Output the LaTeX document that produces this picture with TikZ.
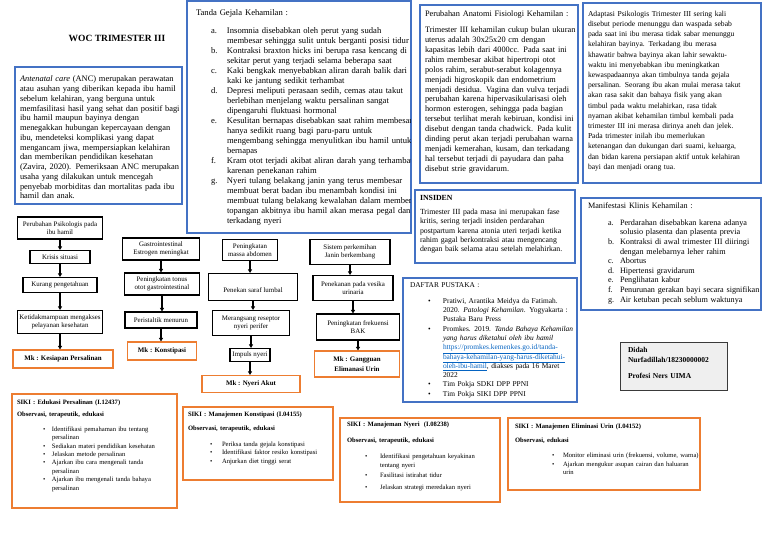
\documentclass[tikz,border=0pt]{standalone}
\usepackage{fontspec}
\setmainfont{Liberation Serif}
\usetikzlibrary{arrows.meta}
\definecolor{bblue}{HTML}{4472C4}
\definecolor{borange}{HTML}{ED7D31}
\definecolor{lnk}{HTML}{0563C1}
\definecolor{dgray}{HTML}{3A3A3A}
\definecolor{lgray}{HTML}{EFEFEF}
\newcommand\fs[2]{\fontsize{#1}{#2}\selectfont}
\newcommand\JL[1]{\hbox to\hsize{#1}}
\newcommand\LL[1]{\hbox to\hsize{#1\hfil}}
\newcommand\IT[4]{\hbox to\hsize{\hskip#1\relax\hbox to#2{#3\hfil}#4\hfil}}
\newcommand\JIT[4]{\hbox to\hsize{\hskip#1\relax\hbox to#2{#3\hfil}#4}}
\newcommand\CT[2]{\hbox to\hsize{\hskip#1\relax#2\hfil}}
\newcommand\JCT[2]{\hbox to\hsize{\hskip#1\relax#2}}
\tikzset{
  bframe/.style={draw=bblue, line width=1.1pt, anchor=north west, inner sep=0pt, outer sep=0pt},
  oframe/.style={draw=borange, line width=1.2pt, anchor=north west, inner sep=0pt, outer sep=0pt},
  body/.style={anchor=north west, inner sep=0pt, outer sep=0pt, align=left},
  flow/.style={draw, line width=1.1pt, align=center, font=\fs{6.9}{8.3}, inner sep=1pt},
  mk/.style={draw=borange, line width=1.2pt, align=center, font=\bfseries\fs{6.9}{9.5}, inner sep=1pt},
  arr/.style={-{Triangle[length=3.5pt,width=4pt]}, line width=1.1pt}
}
\begin{document}
\begin{tikzpicture}[x=1pt,y=-1pt]
\useasboundingbox (0,0) rectangle (768,543);

% title
\node[font=\bfseries\fs{9.5}{11}] (title) at (117,38) {WOC TRIMESTER III};

% ANC box
\node[bframe, minimum width=167pt, minimum height=137pt] (ancbox) at (15,67) {};
\node[body, text width=158pt, font=\fs{8.4}{9.75}] (anctext) at (20,76) {%
\JL{\emph{Antenatal care} (ANC) merupakan perawatan}
\JL{atau asuhan yang diberikan kepada ibu hamil}
\JL{sebelum kelahiran, yang berguna untuk}
\JL{memfasilitasi hasil yang sehat dan positif bagi}
\JL{ibu hamil maupun bayinya dengan}
\JL{menegakkan hubungan kepercayaan dengan}
\JL{ibu, mendeteksi komplikasi yang dapat}
\JL{mengancam jiwa, mempersiapkan kelahiran}
\JL{dan memberikan pendidikan kesehatan}
\JL{(Zavira, 2020). Pemeriksaan ANC merupakan}
\JL{usaha yang dilakukan untuk mencegah}
\JL{penyebab morbiditas dan mortalitas pada ibu}
\LL{hamil dan anak.}};

% Tanda gejala box
\node[bframe, minimum width=224pt, minimum height=232pt] (tandabox) at (187,1) {};
\begin{scope}
\clip (187,1) rectangle (410.5,233);
\node[body, text width=230pt, font=\fs{8.6}{10}] (tandatext) at (196,10) {%
\LL{Tanda Gejala Kehamilan :}
\vskip 8pt
\IT{15pt}{16pt}{a.}{Insomnia disebabkan oleh perut yang sudah}
\CT{31pt}{membesar sehingga sulit untuk berganti posisi tidur}
\IT{15pt}{16pt}{b.}{Kontraksi braxton hicks ini berupa rasa kencang di}
\CT{31pt}{sekitar perut yang terjadi selama beberapa saat}
\IT{15pt}{16pt}{c.}{Kaki bengkak menyebabkan aliran darah balik dari}
\CT{31pt}{kaki ke jantung sedikit terhambat}
\IT{15pt}{16pt}{d.}{Depresi meliputi perasaan sedih, cemas atau takut}
\CT{31pt}{berlebihan menjelang waktu persalinan sangat}
\CT{31pt}{dipengaruhi fluktuasi hormonal}
\IT{15pt}{16pt}{e.}{Kesulitan bernapas disebabkan saat rahim membesar}
\CT{31pt}{hanya sedikit ruang bagi paru-paru untuk}
\CT{31pt}{mengembang sehingga menyulitkan ibu hamil untuk}
\CT{31pt}{bernapas}
\IT{15pt}{16pt}{f.}{Kram otot terjadi akibat aliran darah yang terhambat}
\CT{31pt}{karenan penekanan rahim}
\IT{15pt}{16pt}{g.}{Nyeri tulang belakang janin yang terus membesar}
\CT{31pt}{membuat berat badan ibu menambah kondisi ini}
\CT{31pt}{membuat tulang belakang kewalahan dalam memberi}
\CT{31pt}{topangan akbitnya ibu hamil akan merasa pegal dan}
\CT{31pt}{terkadang nyeri}};
\end{scope}

% Perubahan anatomi box
\node[bframe, minimum width=158pt, minimum height=178pt] (anatbox) at (420,5) {};
\node[body, text width=148pt, font=\fs{8.3}{9.9}] (anattext) at (425,11) {%
\LL{Perubahan Anatomi Fisiologi Kehamilan :}
\vskip 6pt
\JL{Trimester III kehamilan cukup bulan ukuran}
\JL{uterus adalah 30x25x20 cm dengan}
\JL{kapasitas lebih dari 4000cc. Pada saat ini}
\JL{rahim membesar akibat hipertropi otot}
\JL{polos rahim, serabut-serabut kolagennya}
\JL{menjadi higroskopik dan endometrium}
\JL{menjadi desidua. Vagina dan vulva terjadi}
\JL{perubahan karena hipervasikularisasi oleh}
\JL{hormon esterogen, sehingga pada bagian}
\JL{tersebut terlihat merah kebiruan, kondisi ini}
\JL{disebut dengan tanda chadwick. Pada kulit}
\JL{dinding perut akan terjadi perubahan warna}
\JL{menjadi kemerahan, kusam, dan terkadang}
\JL{hal tersebut terjadi di payudara dan paha}
\LL{disebut strie gravidarum.}};

% Adaptasi box
\node[bframe, minimum width=178pt, minimum height=180pt] (adapbox) at (583,3) {};
\node[body, text width=168pt, font=\fs{7.6}{10.2}] (adaptext) at (588,11) {%
\LL{Adaptasi Psikologis Trimester III sering kali}
\LL{disebut periode menunggu dan waspada sebab}
\LL{pada saat ini ibu merasa tidak sabar menunggu}
\LL{kelahiran bayinya. Terkadang ibu merasa}
\LL{khawatir bahwa bayinya akan lahir sewaktu-}
\LL{waktu ini menyebabkan ibu meningkatkan}
\LL{kewaspadaannya akan timbulnya tanda gejala}
\LL{persalinan. Seorang ibu akan mulai merasa takut}
\LL{akan rasa sakit dan bahaya fisik yang akan}
\LL{timbul pada waktu melahirkan, rasa tidak}
\LL{nyaman akibat kehamilan timbul kembali pada}
\LL{trimester III ini merasa dirinya aneh dan jelek.}
\LL{Pada trimester inilah ibu memerlukan}
\LL{ketenangan dan dukungan dari suami, keluarga,}
\LL{dan bidan karena persiapan aktif untuk kelahiran}
\LL{bayi dan menjadi orang tua.}};

% Insiden box
\node[bframe, minimum width=160pt, minimum height=73pt] (insbox) at (415,190) {};
\node[body, text width=150pt, font=\fs{7.8}{9.3}] (instext) at (420,195) {%
\LL{\bfseries INSIDEN}
\vskip 5pt
\JL{Trimester III pada masa ini merupakan fase}
\JL{kritis, sering terjadi insiden perdarahan}
\JL{postpartum karena atonia uteri terjadi ketika}
\JL{rahim gagal berkontraksi atau mengencang}
\LL{dengan baik selama atau setelah melahirkan.}};

% Manifestasi box
\node[bframe, minimum width=180pt, minimum height=112pt] (manbox) at (581,198) {};
\node[body, text width=168pt, font=\fs{8.2}{9.6}] (mantext) at (588,203) {%
\LL{Manifestasi Klinis Kehamilan :}
\vskip 7pt
\JIT{20pt}{12pt}{a.}{Perdarahan disebabkan karena adanya}
\CT{32pt}{solusio plasenta dan plasenta previa}
\JIT{20pt}{12pt}{b.}{Kontraksi di awal trimester III diiringi}
\CT{32pt}{dengan melebarnya leher rahim}
\IT{20pt}{12pt}{c.}{Abortus}
\IT{20pt}{12pt}{d.}{Hipertensi gravidarum}
\IT{20pt}{12pt}{e.}{Penglihatan kabur}
\IT{20pt}{12pt}{f.}{Penurunan gerakan bayi secara signifikan}
\IT{20pt}{12pt}{g.}{Air ketuban pecah seblum waktunya}};

% Daftar pustaka box
\node[bframe, minimum width=174pt, minimum height=124pt] (dafbox) at (403,278) {};
\node[body, text width=162pt, font=\fs{7.4}{9.3}] (daftext) at (410,283) {%
\LL{DAFTAR PUSTAKA :}
\vskip 6pt
\IT{18pt}{15pt}{\textbullet}{Pratiwi, Arantika Meidya da Fatimah.}
\CT{33pt}{2020. \emph{Patologi Kehamilan}. Yogyakarta :}
\CT{33pt}{Pustaka Baru Press}
\IT{18pt}{15pt}{\textbullet}{Promkes. 2019. \emph{Tanda Bahaya Kehamilan}}
\CT{33pt}{\emph{yang harus diketahui oleh ibu hamil}}
\CT{33pt}{\textcolor{lnk}{\underline{https://promkes.kemenkes.go.id/tanda-}}}
\CT{33pt}{\textcolor{lnk}{\underline{bahaya-kehamilan-yang-harus-diketahui-}}}
\CT{33pt}{\textcolor{lnk}{\underline{oleh-ibu-hamil}}, diakses pada 16 Maret}
\CT{33pt}{2022}
\IT{18pt}{15pt}{\textbullet}{Tim Pokja SDKI DPP PPNI}
\IT{18pt}{15pt}{\textbullet}{Tim Pokja SIKI DPP PPNI}};

% Didah box
\node[draw=dgray, fill=lgray, line width=1.3pt, anchor=north west, minimum width=107pt, minimum height=48pt, inner sep=0pt] (didbox) at (620,342) {};
\node[body, text width=100pt, font=\bfseries\fs{7.5}{9.8}] (didtext) at (628,347) {%
\LL{Didah}
\LL{Nurfadillah/18230000002}
\vskip 7pt
\LL{Profesi Ners UIMA}};

% ---------- flow column 1 ----------
\node[flow, minimum width=85pt, minimum height=22pt] (p1) at (60,228) {Perubahan Psikologis pada\\ibu hamil};
\node[flow, minimum width=60pt, minimum height=13pt] (p2) at (60,257) {Krisis situasi};
\node[flow, minimum width=74pt, minimum height=15pt] (p3) at (60,285) {Kurang pengetahuan};
\node[flow, minimum width=85pt, minimum height=23pt] (p4) at (60,322) {Ketidakmampuan mengakses\\pelayanan kesehatan};
\node[mk, minimum width=100pt, minimum height=18pt] (m1) at (63,359) {Mk : Kesiapan Persalinan};
\draw[arr] (p1.south) -- (p1.south |- p2.north);
\draw[arr] (p2.south) -- (p2.south |- p3.north);
\draw[arr] (p3.south) -- (p3.south |- p4.north);
\draw[arr] (p4.south) -- (p4.south |- m1.north);

% ---------- flow column 2 ----------
\node[flow, minimum width=77pt, minimum height=22pt] (g1) at (161,249) {Gastrointestinal\\Estrogen meningkat};
\node[flow, minimum width=75pt, minimum height=22pt] (g2) at (162,284) {Peningkatan tonus\\otot gastrointestinal};
\node[flow, minimum width=72pt, minimum height=16pt] (g3) at (161,320) {Peristaltik menurun};
\node[mk, minimum width=69pt, minimum height=18pt] (m2) at (162,351) {Mk : Konstipasi};
\draw[arr] (g1.south) -- (g1.south |- g2.north);
\draw[arr] (g2.south) -- (g2.south |- g3.north);
\draw[arr] (g3.south) -- (g3.south |- m2.north);

% ---------- flow column 3 ----------
\node[flow, minimum width=55pt, minimum height=21pt] (n1) at (250,250) {Peningkatan\\massa abdomen};
\node[flow, minimum width=89pt, minimum height=27pt, text height=12pt] (n2) at (253,287) {Penekan saraf lumbal};
\node[flow, minimum width=77pt, minimum height=25pt] (n3) at (251,323) {Merangsang reseptor\\nyeri perifer};
\node[flow, minimum width=40pt, minimum height=13pt] (n4) at (250,355) {Impuls nyeri};
\node[mk, minimum width=98pt, minimum height=17pt] (m3) at (251,384) {Mk : Nyeri Akut};
\draw[arr] (n1.south) -- (n1.south |- n2.north);
\draw[arr] (n2.south) -- (n2.south |- n3.north);
\draw[arr] (n3.south) -- (n3.south |- n4.north);
\draw[arr] (n4.south) -- (n4.south |- m3.north);

% ---------- flow column 4 ----------
\node[flow, minimum width=80pt, minimum height=25pt] (u1) at (350,252) {Sistem perkemihan\\Janin berkembang};
\node[flow, minimum width=80pt, minimum height=25pt] (u2) at (353,288) {Penekanan pada vesika\\urinaria};
\node[flow, minimum width=83pt, minimum height=26pt] (u3) at (358,327) {Peningkatan frekuensi\\BAK};
\node[mk, minimum width=85pt, minimum height=26pt] (u4) at (357,364) {Mk : Gangguan\\Elimanasi Urin};
\draw[arr] (u1.south) -- (u1.south |- u2.north);
\draw[arr] (u2.south) -- (u2.south |- u3.north);
\draw[arr] (u3.south) -- (u3.south |- u4.north);

% ---------- SIKI boxes ----------
\node[oframe, minimum width=165pt, minimum height=114pt] (s1box) at (12,394) {};
\node[body, text width=155pt, font=\fs{6.6}{8.4}] (s1text) at (17,400) {%
\LL{\bfseries SIKI : Edukasi Persalinan (I.12437)}
\vskip 4pt
\LL{\bfseries Observasi, terapeutik, edukasi}
\vskip 6pt
\JIT{26pt}{9pt}{\textbullet}{Identifikasi pemahaman ibu tentang}
\CT{35pt}{persalinan}
\IT{26pt}{9pt}{\textbullet}{Sediakan materi pendidikan kesehatan}
\IT{26pt}{9pt}{\textbullet}{Jelaskan metode persalinan}
\JIT{26pt}{9pt}{\textbullet}{Ajarkan ibu cara mengenali tanda}
\CT{35pt}{persalinan}
\JIT{26pt}{9pt}{\textbullet}{Ajarkan ibu mengenali tanda bahaya}
\CT{35pt}{persalinan}};

\node[oframe, minimum width=150pt, minimum height=73pt] (s2box) at (183,407) {};
\node[body, text width=142pt, font=\fs{6.6}{8.8}] (s2text) at (188,412) {%
\LL{\bfseries SIKI : Manajemen Konstipasi (I.04155)}
\vskip 5pt
\LL{\bfseries Observasi, terapeutik, edukasi}
\vskip 7pt
\IT{22pt}{12pt}{\textbullet}{Periksa tanda gejala konstipasi}
\IT{22pt}{12pt}{\textbullet}{Identifikasi faktor resiko konstipasi}
\IT{22pt}{12pt}{\textbullet}{Anjurkan diet tinggi serat}};

\node[oframe, minimum width=160pt, minimum height=84pt] (s3box) at (340,418) {};
\node[body, text width=147pt, font=\fs{6.6}{8.6}] (s3text) at (347,422) {%
\LL{\bfseries SIKI : Manajeman Nyeri \ (I.08238)}
\vskip 7pt
\LL{\bfseries Observasi, terapeutik, edukasi}
\vskip 8pt
\JIT{18pt}{15pt}{\textbullet}{Identifikasi pengetahuan keyakinan}
\CT{33pt}{tentang nyeri}
\vskip 1.5pt
\IT{18pt}{15pt}{\textbullet}{Fasilitasi istirahat tidur}
\vskip 3pt
\IT{18pt}{15pt}{\textbullet}{Jelaskan strategi meredakan nyeri}};

\node[oframe, minimum width=192pt, minimum height=72pt] (s4box) at (508,418) {};
\node[body, text width=178pt, font=\fs{6.6}{8.6}] (s4text) at (515,424) {%
\LL{\bfseries SIKI : Manajemen Eliminasi Urin (I.04152)}
\vskip 5pt
\LL{\bfseries Observasi, edukasi}
\vskip 7pt
\IT{37pt}{11pt}{\textbullet}{Monitor eliminasi urin (frekuensi, volume, warna)}
\JIT{37pt}{11pt}{\textbullet}{Ajarkan mengukur asupan cairan dan haluaran}
\CT{48pt}{urin}};

\end{tikzpicture}
\end{document}
